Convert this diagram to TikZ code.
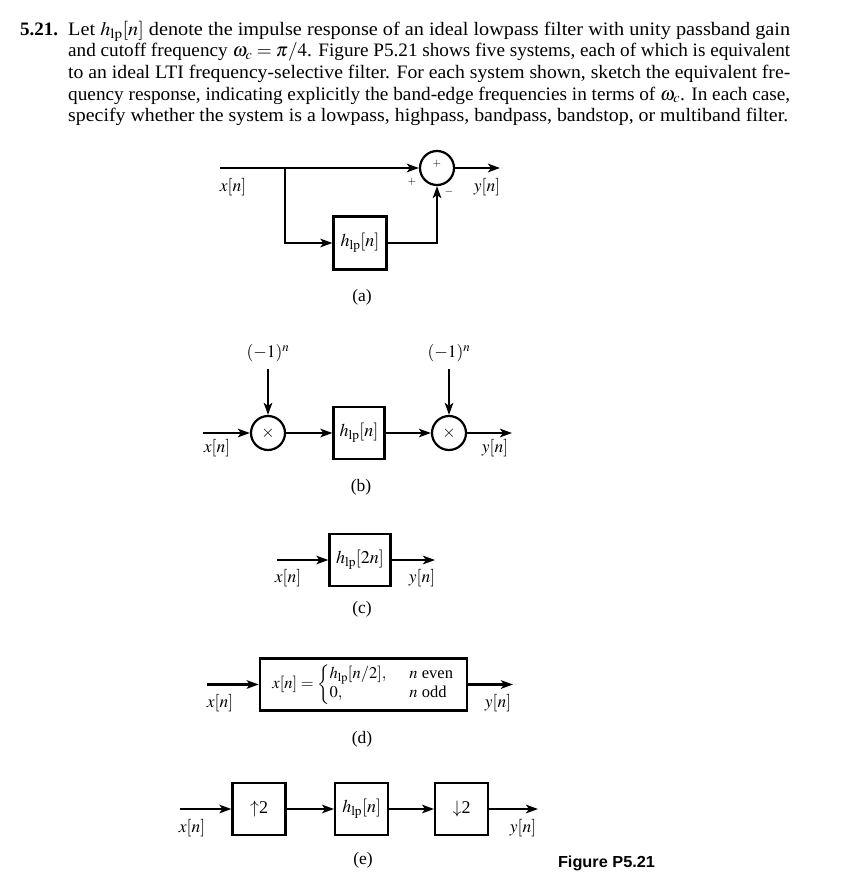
\documentclass[tikz,border=0pt]{standalone}
\usepackage{amsmath}
\usepackage{mathptmx}
\usepackage{fontspec}
\setmainfont{Liberation Serif}
\newfontfamily\figfont{Liberation Sans}
\usepackage{graphicx}
\usetikzlibrary{arrows.meta}
\begin{document}
\begin{tikzpicture}[x=1pt,y=-1pt,
  arr/.style={line width=2.2pt,-{Stealth[length=12pt,width=8.5pt,inset=3pt]}},
  blk/.style={draw,line width=2.2pt,inner sep=0pt,font=\fontsize{18}{20}\selectfont},
  circ/.style={draw,circle,line width=2.2pt,minimum size=34pt,inner sep=0pt,font=\fontsize{17}{18}\selectfont},
  lbl/.style={inner sep=0pt,font=\fontsize{17.5}{20}\selectfont},
  sml/.style={inner sep=0pt,font=\fontsize{11}{12}\selectfont},
  para/.style={anchor=base west,inner sep=0pt,font=\fontsize{19}{21.7}\selectfont}]
\useasboundingbox (0,0) rectangle (866,894);
% ---------- problem text ----------
\node[para] (num) at (20,35) {\bfseries 5.21.};
\node[para] (l1) at (68,35) {\resizebox{722pt}{\height}{Let $h_{\mathrm{lp}}[n]$ denote the impulse response of an ideal lowpass filter with unity passband gain}};
\node[para] (l2) at (68,56.7) {\resizebox{722pt}{\height}{and cutoff frequency $\omega_c = \pi/4$. Figure P5.21 shows five systems, each of which is equivalent}};
\node[para] (l3) at (68,78.3) {\resizebox{722pt}{\height}{to an ideal LTI frequency-selective filter. For each system shown, sketch the equivalent fre-}};
\node[para] (l4) at (68,100) {\resizebox{722pt}{\height}{quency response, indicating explicitly the band-edge frequencies in terms of $\omega_c$. In each case,}};
\node[para] (l5) at (68,121.7) {\resizebox{720pt}{\height}{specify whether the system is a lowpass, highpass, bandpass, bandstop, or multiband filter.}};
% ---------- (a) ----------
\coordinate (ain) at (220,168);
\coordinate (br) at (285,168);
\coordinate (aout) at (500,168);
\node[circ] (s1) at (437,168) {};
\node[sml] (s1p) at (437,164) {$+$};
\node[blk,minimum width=53pt,minimum height=53pt] (b1) at (360,243) {$h_{\mathrm{lp}}[n]$};
\draw[arr] (ain) -- (s1.west);
\draw[arr] (br) |- (b1.west);
\draw[arr] (b1.east) -| (s1.south);
\draw[arr] (s1.east) -- (aout);
\node[sml] (pl) at (412,182) {$+$};
\node[sml] (mi) at (449,192) {$-$};
\node[lbl] (xa) at (233,187) {$x[n]$};
\node[lbl] (ya) at (487,187) {$y[n]$};
\node[lbl] (ca) at (362,297) {(a)};
% ---------- (b) ----------
\coordinate (bin) at (203,433);
\coordinate (bout) at (512,433);
\node[circ] (c1) at (268,433) {$\times$};
\node[blk,minimum width=51pt,minimum height=52pt] (b2) at (359,433) {$h_{\mathrm{lp}}[n]$};
\node[circ] (c2) at (449,433) {$\times$};
\node[lbl] (m1) at (268,353) {$(-1)^n$};
\node[lbl] (m2) at (449,353) {$(-1)^n$};
\draw[arr] (bin) -- (c1);
\draw[arr] (c1) -- (b2);
\draw[arr] (b2) -- (c2);
\draw[arr] (c2) -- (bout);
\draw[arr,shorten <=7pt] (m1) -- (c1);
\draw[arr,shorten <=7pt] (m2) -- (c2);
\node[lbl] (xb) at (217,448) {$x[n]$};
\node[lbl] (yb) at (495,448) {$y[n]$};
\node[lbl] (cb) at (361,487) {(b)};
% ---------- (c) ----------
\coordinate (cin) at (277,560);
\coordinate (cout) at (435,560);
\node[blk,minimum width=61pt,minimum height=52pt] (b3) at (360,560) {$h_{\mathrm{lp}}[2n]$};
\draw[arr] (cin) -- (b3);
\draw[arr] (b3) -- (cout);
\node[lbl] (xc) at (288,578) {$x[n]$};
\node[lbl] (yc) at (422,578) {$y[n]$};
\node[lbl] (cc) at (362,609) {(c)};
% ---------- (d) ----------
\coordinate (din) at (207,684.5);
\coordinate (dout) at (513,684.5);
\node[blk,minimum width=207pt,minimum height=52pt,font=\fontsize{16.5}{19}\selectfont] (b4) at (363.3,684.5)
  {$x[n] = \left\{\renewcommand\arraystretch{1}\begin{array}{@{}l@{\hspace{1.4em}}l@{}} h_{\mathrm{lp}}[n/2], & n\ \text{even}\\ 0, & n\ \text{odd}\end{array}\right.$};
\draw[arr] (din) -- (b4);
\draw[arr] (b4) -- (dout);
\node[lbl] (xd) at (220,703) {$x[n]$};
\node[lbl] (yd) at (498,703) {$y[n]$};
\node[lbl] (cd) at (362,739) {(d)};
% ---------- (e) ----------
\coordinate (ein) at (180,809);
\coordinate (eout) at (538,809);
\node[blk,minimum width=53pt,minimum height=52pt] (e1) at (259,809) {$\uparrow$2};
\node[blk,minimum width=53pt,minimum height=52pt] (e2) at (361.7,809) {$h_{\mathrm{lp}}[n]$};
\node[blk,minimum width=53pt,minimum height=52pt] (e3) at (461.7,809) {$\downarrow$2};
\draw[arr] (ein) -- (e1);
\draw[arr] (e1) -- (e2);
\draw[arr] (e2) -- (e3);
\draw[arr] (e3) -- (eout);
\node[lbl] (xe) at (192,828) {$x[n]$};
\node[lbl] (ye) at (523,828) {$y[n]$};
\node[lbl] (ce) at (363,860) {(e)};
% ---------- figure label ----------
\node[inner sep=0pt,font=\fontsize{16}{18}\selectfont\figfont\bfseries] (fig) at (606.5,863) {\resizebox{97pt}{\height}{Figure P5.21}};
\end{tikzpicture}
\end{document}
